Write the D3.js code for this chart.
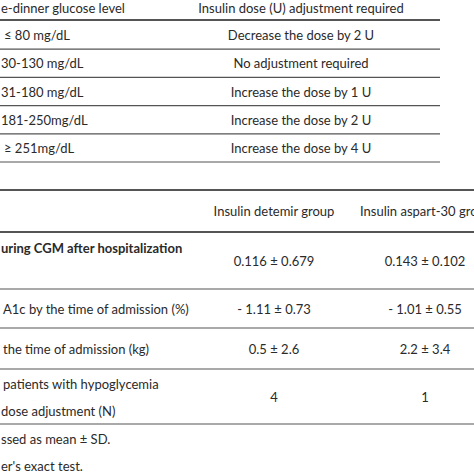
<!DOCTYPE html>
<html><head><meta charset="utf-8">
<script src="https://cdn.jsdelivr.net/npm/d3@7"></script>
<style>body{margin:0;background:#fff}</style></head>
<body><svg id="c" width="474" height="474"></svg>
<script>
const topHeader = ["e-dinner glucose level", "Insulin dose (U) adjustment required"];
const glucoseLevels = ["≤ 80 mg/dL", "30-130 mg/dL", "31-180 mg/dL", "181-250mg/dL", "≥ 251mg/dL"];
const adjustments = ["Decrease the dose by 2 U", "No adjustment required", "Increase the dose by 1 U", "Increase the dose by 2 U", "Increase the dose by 4 U"];
const groups = ["Insulin detemir group", "Insulin aspart-30 gro"];
const outcomeLabels = [["uring CGM after hospitalization"], ["A1c by the time of admission (%)"], ["the time of admission (kg)"], ["patients with hypoglycemia", "dose adjustment (N)"]];
const detemirValues = ["0.116 ± 0.679", "- 1.11 ± 0.73", "0.5 ± 2.6", "4"];
const aspartValues = ["0.143 ± 0.102", "- 1.01 ± 0.55", "2.2 ± 3.4", "1"];
const footnotes = ["ssed as mean ± SD.", "er's exact test."];

const svg = d3.select("#c");
const F = "Lato, 'Open Sans', sans-serif", col = "#2a2a2a";
function txt(x,y,t,anchor,bold){svg.append("text").attr("x",x).attr("y",y).attr("text-anchor",anchor||"start")
  .attr("dominant-baseline","central").attr("font-family",F).attr("font-size",13).attr("fill",col)
  .attr("font-weight",bold?"bold":"normal").text(t);}
function line(x1,x2,y,w){svg.append("line").attr("x1",x1).attr("x2",x2).attr("y1",y).attr("y2",y).attr("stroke","#555").attr("stroke-width",w||1.2);}

const yTop = d3.scaleBand().domain(d3.range(glucoseLevels.length)).range([21,162]);
txt(1,8,topHeader[0]); txt(301,8,topHeader[1],"middle");
line(0,440,20,2);
glucoseLevels.forEach((g,i)=>{
  const yc = yTop(i)+yTop.bandwidth()/2;
  txt(g.startsWith("≤")||g.startsWith("≥")?4:1, yc, g);
  txt(301, yc, adjustments[i], "middle");
  line(0,440,yTop(i)+yTop.bandwidth(),1.2);
});

line(0,474,190,2);
const xCol = d3.scalePoint().domain(groups).range([274,418]);
groups.forEach((g,i)=>txt(i===0?xCol(g):360,211,g,i===0?"middle":"start"));
line(0,474,232,2);
const rowBounds = [232,289,328,369,424];
outcomeLabels.forEach((lbls,i)=>{
  const y0=rowBounds[i], y1=rowBounds[i+1], yc=(y0+y1)/2;
  if(i===0){ txt(1,248,lbls[0],"start",true); }
  else if(lbls.length===2){ txt(3,yc-13,lbls[0]); txt(1,yc+14,lbls[1]); }
  else txt(3,yc,lbls[0]);
  txt(274, i===0?261:yc, detemirValues[i], "middle");
  txt(425, i===0?261:yc, aspartValues[i], "middle");
  line(0,474,y1,1.2);
});
txt(1,439,footnotes[0]); txt(1,466,footnotes[1]);
</script></body></html>
